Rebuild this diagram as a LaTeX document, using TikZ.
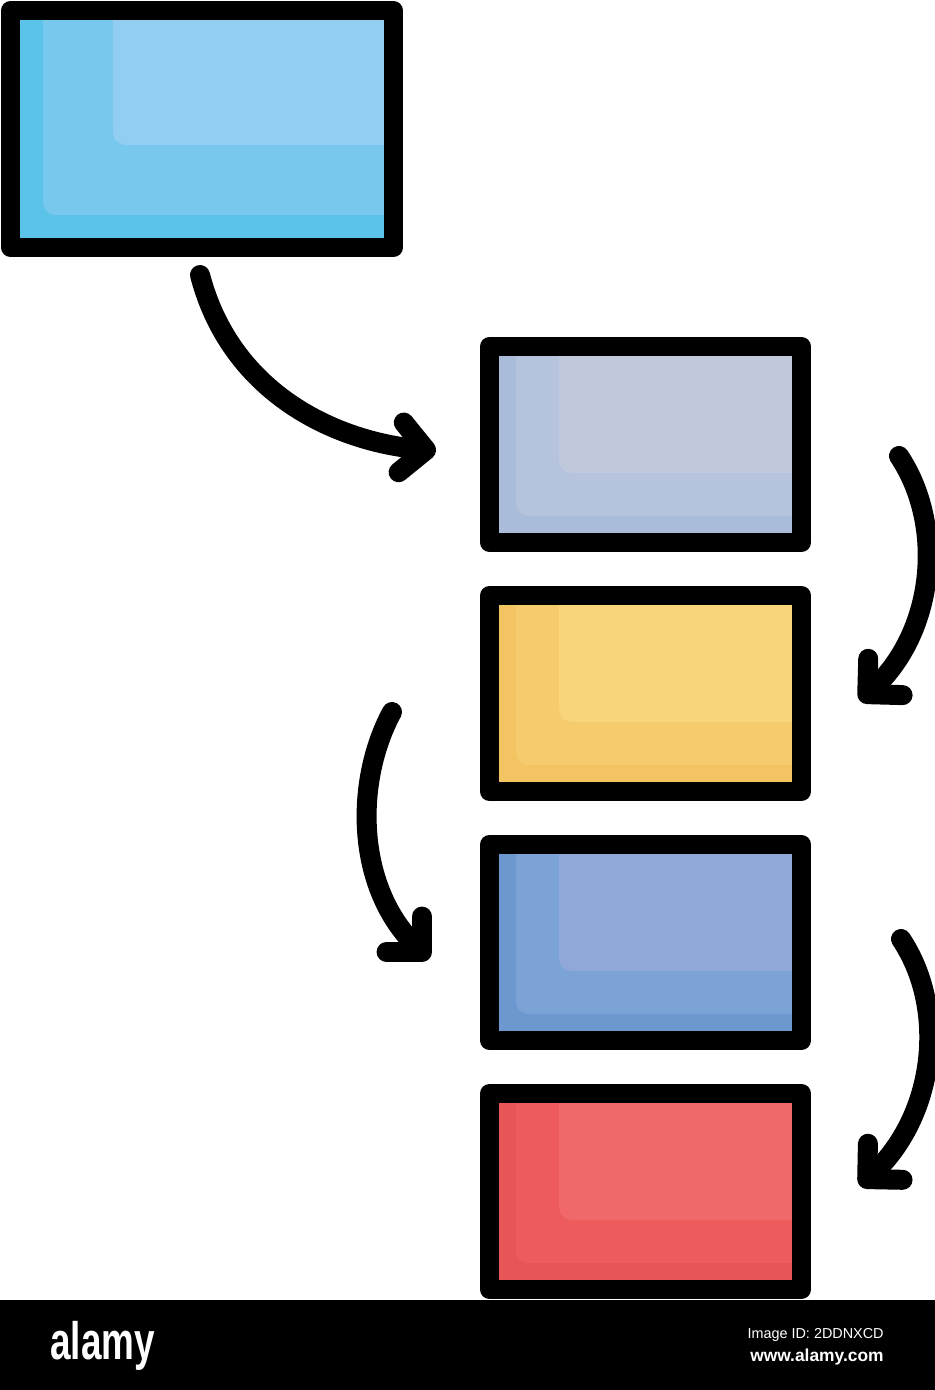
\documentclass[tikz,border=0pt]{standalone}
\usepackage{fontspec}
\setmainfont{Liberation Sans}
\usetikzlibrary{arrows.meta,calc}

\definecolor{skybase}{HTML}{5BC2EA}
\definecolor{skymid}{HTML}{78C8EE}
\definecolor{skytop}{HTML}{91CEF2}
\definecolor{greybase}{HTML}{A9BDDA}
\definecolor{greymid}{HTML}{B5C3DD}
\definecolor{greytop}{HTML}{C0C9DC}
\definecolor{sunbase}{HTML}{F2C462}
\definecolor{sunmid}{HTML}{F5CB6E}
\definecolor{suntop}{HTML}{F8D57B}
\definecolor{navybase}{HTML}{6C98CF}
\definecolor{navymid}{HTML}{7BA3D6}
\definecolor{navytop}{HTML}{8FA8D7}
\definecolor{redbase}{HTML}{E85556}
\definecolor{redmid}{HTML}{EE5B5C}
\definecolor{redtop}{HTML}{F1686B}

% #1 name, #2 style, #3 colour, #4 mid inset, #5 top inset, #6 centre
\newcommand\card[6]{%
\node[#2, fill=#3base] (#1) at (#6) {};
\fill[#3mid] let \p1=(#1.north west), \p2=(#1.south east) in
  ({\x2-\hw},{\y1-\hw}) -- ({\x1+\hw+#4},{\y1-\hw}) -- ({\x1+\hw+#4},{\y2+\hw+#4+\rc})
  arc[start angle=180,end angle=270,radius=\rc] -- ({\x2-\hw},{\y2+\hw+#4}) -- cycle;
\fill[#3top] let \p1=(#1.north west), \p2=(#1.south east) in
  ({\x2-\hw},{\y1-\hw}) -- ({\x1+\hw+#5},{\y1-\hw}) -- ({\x1+\hw+#5},{\y2+\hw+#5+\rc})
  arc[start angle=180,end angle=270,radius=\rc] -- ({\x2-\hw},{\y2+\hw+#5}) -- cycle;
}

\begin{document}
\begin{tikzpicture}[x=0.02cm,y=-0.02cm,
    cardbox/.style={rectangle, draw=black, line width=0.38cm, line join=round,
      inner sep=0pt, outer sep=0pt, minimum width=6.24cm, minimum height=3.92cm},
    bigcard/.style={cardbox, minimum width=7.66cm, minimum height=4.74cm},
    flow/.style={line width=0.4cm, line cap=round,
      -{Straight Barb[length=0.5cm,width=1cm,line cap=round,line join=round]}},
    stamp/.style={text=white, inner sep=0pt}]
	%% some definitions
	\def\hw{0.19cm} % half border
	\def\rc{0.25cm} % corner of the layers

	\useasboundingbox (0,0) rectangle (935,1390);
	\fill[white] (0,0) rectangle (935,1390);

	\card{first}{bigcard}{sky}{0.46cm}{1.86cm}{202,129}
	\card{second}{cardbox}{grey}{0.34cm}{1.2cm}{645.5,444.5}
	\card{third}{cardbox}{sun}{0.34cm}{1.2cm}{645.5,693.5}
	\card{fourth}{cardbox}{navy}{0.34cm}{1.2cm}{645.5,942.5}
	\card{fifth}{cardbox}{red}{0.34cm}{1.2cm}{645.5,1191.5}

	% arrow ends
	\coordinate (s1) at (200,275);
	\coordinate (e1) at (436,451);
	\coordinate (s2) at (899,456);
	\coordinate (e2) at (860,701);
	\coordinate (s3) at (392,712);
	\coordinate (e3) at (429,959);
	\coordinate (s4) at (901,939);
	\coordinate (e4) at (860,1186);

	\draw[flow] (s1) .. controls (230,390) and (330,440) .. (e1);
	\draw[flow] (s2) .. controls (945,525) and (935,630) .. (e2);
	\draw[flow] (s3) .. controls (355,780) and (355,885) .. (e3);
	\draw[flow] (s4) .. controls (947,1008) and (936,1113) .. (e4);

	% bottom bar
	\fill[black] (0,1300) rectangle (935,1390);
	\node[stamp, anchor=base west, xscale=0.7, font=\fontsize{30}{32}\selectfont\bfseries] (logo) at (50,1359) {alamy};
	\node[stamp, anchor=base east, font=\fontsize{8.2}{10}\selectfont] (imgid) at (884,1338) {Image ID: 2DDNXCD};
	\node[stamp, anchor=base east, font=\fontsize{9.9}{12}\selectfont\bfseries] (site) at (884,1361) {www.alamy.com};
\end{tikzpicture}
\end{document}
